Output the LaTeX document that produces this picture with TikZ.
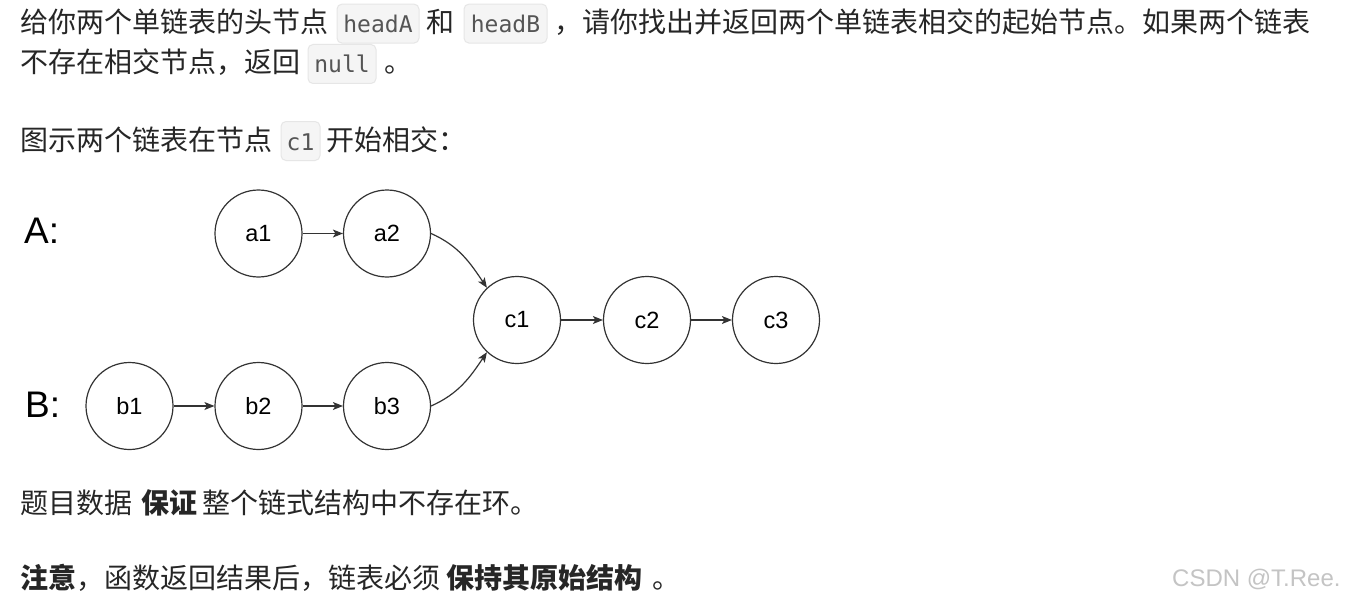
\documentclass[tikz,border=0pt]{standalone}
\usepackage{fontspec}
\setmainfont{Liberation Sans}
\newfontfamily\cjk{Noto Sans CJK SC}
\newfontfamily\codefont{DejaVu Sans Mono}
\usetikzlibrary{arrows.meta}
\definecolor{txt}{HTML}{262626}
\definecolor{codebg}{HTML}{F5F5F5}
\definecolor{codeborder}{HTML}{E6E6E6}
\definecolor{codetxt}{HTML}{555555}
\definecolor{circ}{HTML}{333333}
\definecolor{wm}{HTML}{C4C4C4}
\begin{document}
\begin{tikzpicture}[x=1pt,y=-1pt,
  cn/.style={font=\cjk\fontsize{28}{28}\selectfont, text=txt, inner sep=0pt, anchor=base west},
  cb/.style={font=\cjk\bfseries\fontsize{28}{28}\selectfont, text=txt, inner sep=0pt, anchor=base west},
  code/.style={draw=codeborder, fill=codebg, rounded corners=5pt, line width=1pt,
    font=\codefont\fontsize{23}{23}\selectfont, text=codetxt, inner xsep=0pt, inner ysep=0pt,
    text height=28.5pt, text depth=10.5pt, anchor=base},
  lnode/.style={circle, draw=circ, line width=1.2pt, minimum size=87pt, inner sep=0pt,
    font=\fontsize{23.5}{23.5}\selectfont, text=black},
  lab/.style={font=\fontsize{37}{37}\selectfont, text=black, inner sep=0pt, anchor=base west},
  arr/.style={-{Stealth[length=10pt,width=8pt,inset=2.5pt]}, line width=1.2pt, draw=circ}
]
\fill[white] (0,0) rectangle (1350,602);
\useasboundingbox (0,0) rectangle (1350,602);

% line 1
\node[cn] (l1a) at (20,32.6) {给你两个单链表的头节点};
\node[code, minimum width=82pt] (hA) at (378,32.6) {headA};
\node[cn] (l1b) at (426,32.6) {和};
\node[code, minimum width=83pt] (hB) at (505.5,32.6) {headB};
\node[cn] (l1c) at (554,32.6) {，};
\node[cn] (l1d) at (582,32.6) {请你找出并返回两个单链表相交的起始节点。如果两个链表};
% line 2
\node[cn] (l2a) at (20,73) {不存在相交节点，返回};
\node[code, minimum width=68pt] (nl) at (342,73) {null};
\node[cn] (l2b) at (384,73) {。};
% line 3
\node[cn] (l3a) at (20,150) {图示两个链表在节点};
\node[code, minimum width=39pt] (cc) at (300.5,150) {c1};
\node[cn] (l3b) at (326,150) {开始相交：};

% diagram
\node[lab] (LA) at (24,243) {A:};
\node[lab] (LB) at (25,417) {B:};
\node[lnode] (a1) at (258.5,233.5) {a1};
\node[lnode] (a2) at (387,233.5) {a2};
\node[lnode] (c1) at (517,320) {c1};
\node[lnode] (c2) at (647,320) {c2};
\node[lnode] (c3) at (776,320) {c3};
\node[lnode] (b1) at (129.5,406) {b1};
\node[lnode] (b2) at (258.5,406) {b2};
\node[lnode] (b3) at (387,406) {b3};
\draw[arr] (a1) -- (a2);
\draw[arr] (b1) -- (b2);
\draw[arr] (b2) -- (b3);
\draw[arr] (c1) -- (c2);
\draw[arr] (c2) -- (c3);
\draw[arr] (a2.east) to[out=-24,in=124] (c1.133);
\draw[arr] (b3.east) to[out=24,in=-124] (c1.227);

% line 4
\node[cn] (l4a) at (20,513.6) {题目数据};
\node[cb] (l4b) at (141,513.6) {保证};
\node[cn] (l4c) at (202,513.6) {整个链式结构中不存在环。};
% line 5
\node[cb] (l5a) at (20,588.6) {注意};
\node[cn] (l5b) at (76,588.6) {，函数返回结果后，链表必须};
\node[cb] (l5c) at (446,588.6) {保持其原始结构};
\node[cn] (l5d) at (652,588.6) {。};

% watermark
\node[font=\fontsize{24}{24}\selectfont, text=wm, inner sep=0pt, anchor=base west] (wmk) at (1172,586.5) {CSDN @T.Ree.};
\end{tikzpicture}
\end{document}
